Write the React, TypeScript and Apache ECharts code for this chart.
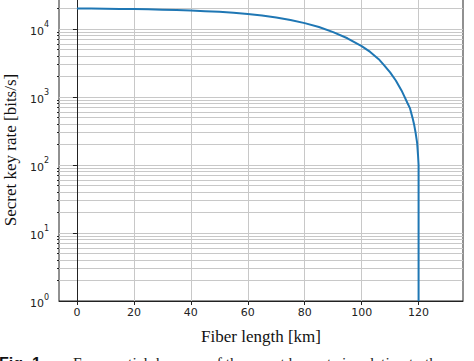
import React, { useEffect, useRef } from "react";
import * as echarts from "echarts";

// Fiber length (km) and secret key rate (bits/s)
const fiberLengthKm = [0, 5, 10, 15, 20, 25, 30, 35, 40, 45, 50, 55, 60, 65, 70, 75, 80, 85, 90, 95, 100, 103, 106, 108, 110, 112, 114, 115, 116, 117, 118, 118.5, 119, 119.5, 119.8, 120, 120];
const keyRate = [20000, 19950, 19850, 19750, 19600, 19450, 19250, 19000, 18700, 18300, 17850, 17300, 16600, 15800, 14800, 13600, 12200, 10700, 9000, 7300, 5600, 4600, 3600, 2900, 2300, 1750, 1250, 1020, 830, 680, 470, 380, 290, 210, 140, 100, 1];

const xTicks = [0, 20, 40, 60, 80, 100, 120];
const yMajorTicks = [1, 10, 100, 1000, 10000];
const yMinorTicks = [
  2, 3, 4, 5, 6, 7, 8, 9,
  20, 30, 40, 50, 60, 70, 80, 90,
  200, 300, 400, 500, 600, 700, 800, 900,
  2000, 3000, 4000, 5000, 6000, 7000, 8000, 9000,
  20000,
];

const xLabel = "Fiber length [km]";
const yLabel = "Secret key rate [bits/s]";
const captionHead = "Fig. 1";
const captionText = "Exponential decrease of the secret key rate in relation to the";

export default function App() {
  const ref = useRef<HTMLDivElement>(null);

  useEffect(() => {
    if (!ref.current) return;
    const chart = echarts.init(ref.current, undefined, { renderer: "svg" });
    const axisColor = "#222";
    const gridColor = "#c8c8c8";
    const yMin = 1;
    const yMax = 27600;

    chart.setOption({
      animation: false,
      backgroundColor: "#fff",
      grid: {
        left: 59,
        right: 11,
        top: -1,
        bottom: 60,
        show: true,
        borderColor: axisColor,
        borderWidth: 1,
        backgroundColor: "transparent",
        containLabel: false,
        outerBoundsMode: "none",
      },
      xAxis: {
        type: "value",
        min: -6.3,
        max: 135.6,
        name: xLabel,
        nameLocation: "middle",
        nameGap: 27,
        nameTextStyle: { fontFamily: "Liberation Serif", fontSize: 17, color: "#111" },
        axisLine: { show: true, lineStyle: { color: axisColor, width: 1 } },
        axisTick: { show: true, customValues: xTicks, length: 4, lineStyle: { color: axisColor } },
        axisLabel: {
          customValues: xTicks,
          fontFamily: "DejaVu Sans",
          fontSize: 11,
          color: axisColor,
          margin: 6,
        },
        splitLine: { show: true, lineStyle: { color: gridColor, width: 1 } },
      },
      yAxis: [
        {
          type: "log",
          logBase: 10,
          min: yMin,
          max: yMax,
          position: "left",
          name: yLabel,
          nameLocation: "middle",
          nameGap: 28,
          nameTextStyle: { fontFamily: "Liberation Serif", fontSize: 17, color: "#111" },
          axisLine: { show: true, lineStyle: { color: axisColor, width: 1 } },
          axisTick: { show: true, customValues: yMajorTicks, length: 4, lineStyle: { color: axisColor } },
          axisLabel: {
            customValues: yMajorTicks,
            margin: 10,
            formatter: (v: number) => `{b|10}{s|${Math.round(Math.log10(v))}}`,
            rich: {
              b: { fontFamily: "DejaVu Sans", fontSize: 11, color: axisColor, lineHeight: 16, verticalAlign: "bottom" },
              s: { fontFamily: "DejaVu Sans", fontSize: 8, color: axisColor, lineHeight: 16, verticalAlign: "top" },
            },
          },
          splitLine: { show: true, lineStyle: { color: gridColor, width: 1 } },
        },
        {
          type: "log",
          logBase: 10,
          min: yMin,
          max: yMax,
          position: "left",
          axisLine: { show: false },
          axisTick: { show: true, customValues: yMinorTicks, length: 2, lineStyle: { color: axisColor } },
          axisLabel: { show: false },
          splitLine: { show: true, lineStyle: { color: gridColor, width: 1 } },
        },
      ],
      series: [
        {
          type: "line",
          yAxisIndex: 0,
          data: fiberLengthKm.map((x, i) => [x, keyRate[i]]),
          showSymbol: false,
          symbol: "none",
          lineStyle: { color: "#1f77b4", width: 2 },
          z: 10,
        },
      ],
      graphic: [
        {
          type: "text",
          x: -1,
          y: 363,
          style: {
            text: captionHead,
            fontFamily: "Liberation Sans",
            fontWeight: "bold",
            fontSize: 16,
            fill: "#111",
            verticalAlign: "middle",
          },
        },
        {
          type: "text",
          x: 73,
          y: 362,
          style: {
            text: captionText,
            fontFamily: "Liberation Serif",
            fontSize: 15.5,
            fill: "#222",
            verticalAlign: "middle",
          },
        },
      ],
    });

    return () => chart.dispose();
  }, []);

  return (
    <div
      ref={ref}
      style={{ position: "fixed", left: 0, top: 0, width: 474, height: 361, background: "#fff" }}
    />
  );
}
